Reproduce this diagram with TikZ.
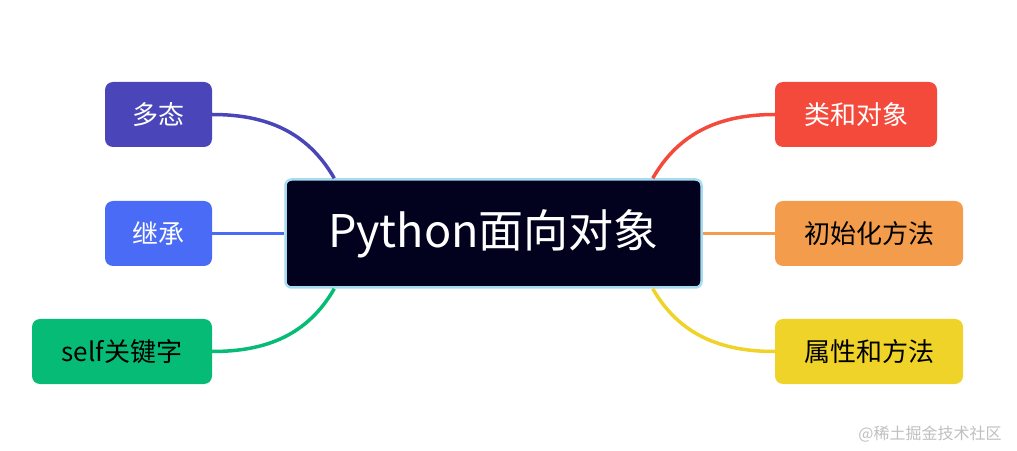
\documentclass[tikz,border=0pt]{standalone}
\usepackage{fontspec}
\setmainfont{Noto Sans CJK SC}
\definecolor{pydark}{HTML}{03021E}
\definecolor{pyframe}{HTML}{A5DCF0}
\definecolor{pypurple}{HTML}{4A45B8}
\definecolor{pyblue}{HTML}{4A6BF5}
\definecolor{pygreen}{HTML}{05BB76}
\definecolor{pyred}{HTML}{F44A3B}
\definecolor{pyorange}{HTML}{F29C4C}
\definecolor{pyyellow}{HTML}{F0D328}
\begin{document}
\begin{tikzpicture}[x=1pt, y=1pt,
	topic/.style={rounded corners=8pt, minimum height=65pt, inner sep=0pt, font=\fontsize{26}{26}\selectfont},
	branch/.style={line width=3.5pt}]
		\useasboundingbox (0,0) rectangle (1017,450);
		% central topic
		\node[fill=pydark, draw=pyframe, line width=2.5pt, rounded corners=6pt, minimum width=416pt, minimum height=108pt,
			text=white, font=\fontsize{45}{45}\selectfont] (main) at (493.5,216.5) {Python面向对象};
		% left side
		\node[topic, fill=pypurple, text=white, minimum width=107pt] (dt) at (158.5,335.5) {多态};
		\node[topic, fill=pyblue, text=white, minimum width=107pt] (jc) at (158.5,216.5) {继承};
		\node[topic, fill=pygreen, text=black, minimum width=180pt] (self) at (122,98.5) {self关键字};
		% right side
		\node[topic, fill=pyred, text=white, minimum width=162pt] (lh) at (856,335.5) {类和对象};
		\node[topic, fill=pyorange, text=black, minimum width=188pt] (csh) at (869,216.5) {初始化方法};
		\node[topic, fill=pyyellow, text=black, minimum width=188pt] (sx) at (869,98.5) {属性和方法};
		% branches
		\draw[branch, pypurple] (dt.east) to[out=0, in=120] ([xshift=50pt]main.north west);
		\draw[branch, pyblue] (jc.east) -- (main.west);
		\draw[branch, pygreen] (self.east) to[out=0, in=-120] ([xshift=50pt]main.south west);
		\draw[branch, pyred] (lh.west) to[out=180, in=60] ([xshift=-50pt]main.north east);
		\draw[branch, pyorange] (csh.west) -- (main.east);
		\draw[branch, pyyellow] (sx.west) to[out=180, in=-60] ([xshift=-50pt]main.south east);
		% watermark
		\node[text=black!25, font=\fontsize{16}{16}\selectfont] (mark) at (930,16) {@稀土掘金技术社区};
\end{tikzpicture}
\end{document}
